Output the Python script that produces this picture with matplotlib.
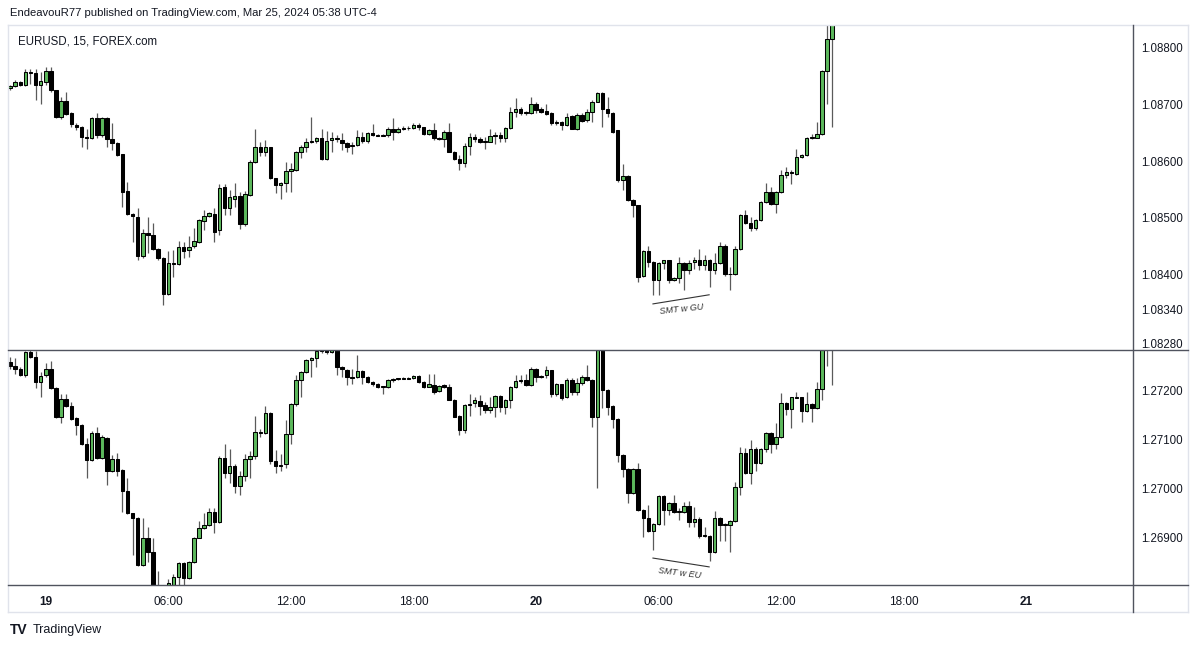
import numpy as np
import matplotlib
matplotlib.use("Agg")
import matplotlib.pyplot as plt
from matplotlib.lines import Line2D

plt.rcParams['font.family'] = ['Liberation Sans', 'DejaVu Sans']

# 15 minute bars, bar 0 = 19 Mar 00:00, first bar shown = -7
firstBar = -7

eu_open  = [1.08729, 1.08731, 1.08739, 1.08733, 1.08757, 1.08754, 1.08733,
            1.08739, 1.08758, 1.08724, 1.08677, 1.08706, 1.08685, 1.08664, 1.08660, 1.08642, 1.08641,
            1.08675, 1.08645, 1.08676, 1.08638, 1.08632, 1.08612, 1.08547, 1.08507, 1.08502, 1.08433,
            1.08474, 1.08470, 1.08445, 1.08429, 1.08366, 1.08421, 1.08419, 1.08449, 1.08443, 1.08450,
            1.08458, 1.08495, 1.08504, 1.08507, 1.08478, 1.08554, 1.08517, 1.08534, 1.08539, 1.08490,
            1.08541, 1.08599, 1.08625, 1.08616, 1.08624, 1.08570, 1.08558, 1.08561, 1.08583, 1.08585,
            1.08615, 1.08625, 1.08633, 1.08636, 1.08640, 1.08603, 1.08637, 1.08638, 1.08637, 1.08632,
            1.08626, 1.08628, 1.08643, 1.08636, 1.08649, 1.08646, 1.08645, 1.08645, 1.08657, 1.08651,
            1.08657, 1.08658, 1.08658, 1.08664, 1.08659, 1.08648, 1.08655, 1.08641, 1.08638, 1.08651,
            1.08616, 1.08603, 1.08597, 1.08626, 1.08643, 1.08638, 1.08634, 1.08634, 1.08644, 1.08645,
            1.08641, 1.08658, 1.08686, 1.08691, 1.08685, 1.08684, 1.08700, 1.08691, 1.08688, 1.08684,
            1.08667, 1.08669, 1.08663, 1.08679, 1.08657, 1.08681, 1.08672, 1.08686, 1.08704, 1.08720,
            1.08692, 1.08684, 1.08654, 1.08567, 1.08573, 1.08532, 1.08522, 1.08398, 1.08442, 1.08423,
            1.08391, 1.08421, 1.08426, 1.08391, 1.08395, 1.08421, 1.08408, 1.08423, 1.08427, 1.08417,
            1.08427, 1.08409, 1.08421, 1.08450, 1.08401, 1.08401, 1.08446, 1.08505, 1.08491, 1.08483,
            1.08497, 1.08528, 1.08545, 1.08525, 1.08546, 1.08575, 1.08580, 1.08578, 1.08607, 1.08611,
            1.08641, 1.08641, 1.08648, 1.08758, 1.08815]
eu_high  = [1.08733, 1.08742, 1.08740, 1.08762, 1.08762, 1.08762, 1.08756,
            1.08765, 1.08766, 1.08725, 1.08712, 1.08721, 1.08686, 1.08666, 1.08661, 1.08657, 1.08677,
            1.08685, 1.08678, 1.08678, 1.08666, 1.08633, 1.08613, 1.08563, 1.08508, 1.08517, 1.08480,
            1.08502, 1.08491, 1.08447, 1.08431, 1.08442, 1.08444, 1.08460, 1.08458, 1.08468, 1.08482,
            1.08498, 1.08514, 1.08510, 1.08517, 1.08560, 1.08560, 1.08549, 1.08562, 1.08545, 1.08548,
            1.08601, 1.08656, 1.08634, 1.08637, 1.08625, 1.08571, 1.08563, 1.08599, 1.08596, 1.08618,
            1.08628, 1.08640, 1.08678, 1.08643, 1.08657, 1.08653, 1.08651, 1.08646, 1.08650, 1.08634,
            1.08634, 1.08654, 1.08651, 1.08651, 1.08665, 1.08647, 1.08647, 1.08660, 1.08675, 1.08660,
            1.08661, 1.08661, 1.08666, 1.08666, 1.08660, 1.08657, 1.08666, 1.08642, 1.08655, 1.08666,
            1.08617, 1.08610, 1.08632, 1.08650, 1.08648, 1.08643, 1.08643, 1.08657, 1.08651, 1.08651,
            1.08660, 1.08695, 1.08710, 1.08695, 1.08688, 1.08713, 1.08704, 1.08695, 1.08701, 1.08686,
            1.08672, 1.08670, 1.08684, 1.08680, 1.08684, 1.08684, 1.08691, 1.08708, 1.08721, 1.08721,
            1.08712, 1.08686, 1.08655, 1.08595, 1.08575, 1.08533, 1.08523, 1.08444, 1.08451, 1.08424,
            1.08422, 1.08427, 1.08427, 1.08397, 1.08432, 1.08423, 1.08426, 1.08432, 1.08446, 1.08435,
            1.08428, 1.08438, 1.08458, 1.08454, 1.08414, 1.08450, 1.08507, 1.08514, 1.08502, 1.08499,
            1.08530, 1.08562, 1.08555, 1.08548, 1.08584, 1.08590, 1.08584, 1.08622, 1.08613, 1.08643,
            1.08648, 1.08669, 1.08760, 1.08847, 1.08870]
eu_low   = [1.08724, 1.08730, 1.08732, 1.08731, 1.08736, 1.08707, 1.08701,
            1.08733, 1.08722, 1.08675, 1.08673, 1.08681, 1.08660, 1.08654, 1.08625, 1.08622, 1.08638,
            1.08640, 1.08643, 1.08625, 1.08619, 1.08608, 1.08520, 1.08505, 1.08458, 1.08426, 1.08430,
            1.08438, 1.08443, 1.08427, 1.08347, 1.08364, 1.08397, 1.08417, 1.08429, 1.08432, 1.08448,
            1.08456, 1.08479, 1.08502, 1.08458, 1.08470, 1.08505, 1.08505, 1.08520, 1.08480, 1.08485,
            1.08538, 1.08596, 1.08608, 1.08608, 1.08568, 1.08543, 1.08533, 1.08546, 1.08546, 1.08583,
            1.08605, 1.08616, 1.08631, 1.08632, 1.08602, 1.08602, 1.08616, 1.08634, 1.08620, 1.08616,
            1.08613, 1.08626, 1.08631, 1.08631, 1.08644, 1.08644, 1.08644, 1.08643, 1.08637, 1.08650,
            1.08654, 1.08655, 1.08657, 1.08654, 1.08645, 1.08646, 1.08637, 1.08637, 1.08625, 1.08615,
            1.08602, 1.08584, 1.08589, 1.08610, 1.08634, 1.08631, 1.08622, 1.08633, 1.08630, 1.08634,
            1.08634, 1.08657, 1.08678, 1.08681, 1.08681, 1.08683, 1.08684, 1.08684, 1.08681, 1.08663,
            1.08663, 1.08654, 1.08662, 1.08656, 1.08654, 1.08669, 1.08669, 1.08669, 1.08703, 1.08660,
            1.08678, 1.08649, 1.08563, 1.08549, 1.08529, 1.08502, 1.08388, 1.08396, 1.08414, 1.08364,
            1.08364, 1.08411, 1.08385, 1.08389, 1.08385, 1.08373, 1.08402, 1.08411, 1.08408, 1.08408,
            1.08379, 1.08402, 1.08419, 1.08398, 1.08373, 1.08399, 1.08444, 1.08489, 1.08477, 1.08478,
            1.08495, 1.08526, 1.08523, 1.08509, 1.08544, 1.08570, 1.08560, 1.08576, 1.08605, 1.08609,
            1.08639, 1.08640, 1.08646, 1.08701, 1.08660]
eu_close = [1.08731, 1.08739, 1.08733, 1.08756, 1.08754, 1.08733, 1.08740,
            1.08758, 1.08724, 1.08677, 1.08706, 1.08683, 1.08665, 1.08660, 1.08642, 1.08641, 1.08675,
            1.08645, 1.08676, 1.08638, 1.08631, 1.08610, 1.08546, 1.08507, 1.08503, 1.08433, 1.08474,
            1.08470, 1.08445, 1.08429, 1.08366, 1.08421, 1.08420, 1.08449, 1.08442, 1.08449, 1.08459,
            1.08496, 1.08503, 1.08508, 1.08476, 1.08553, 1.08517, 1.08536, 1.08539, 1.08490, 1.08542,
            1.08599, 1.08625, 1.08616, 1.08624, 1.08570, 1.08558, 1.08561, 1.08583, 1.08586, 1.08616,
            1.08625, 1.08633, 1.08636, 1.08640, 1.08603, 1.08636, 1.08640, 1.08640, 1.08631, 1.08625,
            1.08629, 1.08643, 1.08636, 1.08649, 1.08646, 1.08645, 1.08645, 1.08657, 1.08651, 1.08657,
            1.08658, 1.08658, 1.08664, 1.08660, 1.08647, 1.08655, 1.08640, 1.08638, 1.08651, 1.08616,
            1.08603, 1.08597, 1.08626, 1.08643, 1.08638, 1.08633, 1.08635, 1.08644, 1.08645, 1.08641,
            1.08658, 1.08686, 1.08691, 1.08685, 1.08685, 1.08700, 1.08689, 1.08686, 1.08682, 1.08666,
            1.08667, 1.08663, 1.08678, 1.08657, 1.08681, 1.08671, 1.08686, 1.08704, 1.08720, 1.08692,
            1.08684, 1.08651, 1.08566, 1.08573, 1.08531, 1.08522, 1.08397, 1.08442, 1.08423, 1.08391,
            1.08420, 1.08426, 1.08391, 1.08395, 1.08421, 1.08408, 1.08421, 1.08427, 1.08417, 1.08427,
            1.08409, 1.08421, 1.08450, 1.08401, 1.08402, 1.08446, 1.08505, 1.08491, 1.08483, 1.08497,
            1.08528, 1.08545, 1.08525, 1.08546, 1.08575, 1.08581, 1.08579, 1.08607, 1.08611, 1.08641,
            1.08641, 1.08648, 1.08758, 1.08815, 1.08865]

gu_open  = [1.27257, 1.27250, 1.27244, 1.27231, 1.27278, 1.27268, 1.27216,
            1.27231, 1.27243, 1.27204, 1.27146, 1.27182, 1.27168, 1.27144, 1.27129, 1.27089, 1.27057,
            1.27112, 1.27061, 1.27103, 1.27034, 1.27059, 1.27037, 1.26994, 1.26949, 1.26938, 1.26843,
            1.26898, 1.26870, 1.26795, 1.26772, 1.26762, 1.26802, 1.26819, 1.26847, 1.26817, 1.26849,
            1.26899, 1.26919, 1.26925, 1.26952, 1.26930, 1.27061, 1.27030, 1.27045, 1.27005, 1.27025,
            1.27060, 1.27065, 1.27115, 1.27112, 1.27153, 1.27055, 1.27045, 1.27050, 1.27110, 1.27171,
            1.27221, 1.27238, 1.27261, 1.27265, 1.27280, 1.27282, 1.27278, 1.27282, 1.27248, 1.27241,
            1.27227, 1.27227, 1.27239, 1.27227, 1.27217, 1.27212, 1.27207, 1.27207, 1.27220, 1.27223,
            1.27223, 1.27224, 1.27224, 1.27229, 1.27217, 1.27207, 1.27210, 1.27198, 1.27210, 1.27207,
            1.27180, 1.27148, 1.27119, 1.27170, 1.27173, 1.27178, 1.27170, 1.27159, 1.27166, 1.27189,
            1.27166, 1.27180, 1.27207, 1.27220, 1.27221, 1.27210, 1.27243, 1.27227, 1.27231, 1.27241,
            1.27193, 1.27212, 1.27187, 1.27221, 1.27197, 1.27214, 1.27227, 1.27221, 1.27146, 1.27295,
            1.27200, 1.27168, 1.27142, 1.27068, 1.27039, 1.26989, 1.27039, 1.26955, 1.26938, 1.26913,
            1.26926, 1.26983, 1.26955, 1.26969, 1.26952, 1.26952, 1.26964, 1.26930, 1.26937, 1.26903,
            1.26903, 1.26869, 1.26938, 1.26925, 1.26925, 1.26933, 1.27003, 1.27071, 1.27030, 1.27080,
            1.27051, 1.27080, 1.27112, 1.27091, 1.27105, 1.27173, 1.27161, 1.27185, 1.27185, 1.27157,
            1.27171, 1.27164, 1.27202, 1.27300, 1.27320]
gu_high  = [1.27268, 1.27266, 1.27248, 1.27280, 1.27282, 1.27280, 1.27238,
            1.27255, 1.27259, 1.27206, 1.27193, 1.27193, 1.27176, 1.27146, 1.27130, 1.27102, 1.27117,
            1.27125, 1.27108, 1.27105, 1.27068, 1.27071, 1.27039, 1.27020, 1.26950, 1.26940, 1.26938,
            1.26921, 1.26898, 1.26830, 1.26795, 1.26815, 1.26824, 1.26849, 1.26849, 1.26851, 1.26901,
            1.26932, 1.26949, 1.26959, 1.26959, 1.27065, 1.27091, 1.27080, 1.27050, 1.27035, 1.27070,
            1.27075, 1.27148, 1.27120, 1.27168, 1.27155, 1.27078, 1.27070, 1.27139, 1.27173, 1.27231,
            1.27240, 1.27263, 1.27268, 1.27290, 1.27290, 1.27290, 1.27290, 1.27285, 1.27250, 1.27243,
            1.27244, 1.27272, 1.27241, 1.27229, 1.27219, 1.27214, 1.27209, 1.27223, 1.27225, 1.27225,
            1.27226, 1.27226, 1.27231, 1.27231, 1.27219, 1.27232, 1.27232, 1.27211, 1.27212, 1.27212,
            1.27181, 1.27149, 1.27172, 1.27193, 1.27187, 1.27190, 1.27176, 1.27187, 1.27191, 1.27190,
            1.27182, 1.27209, 1.27231, 1.27231, 1.27232, 1.27248, 1.27246, 1.27231, 1.27250, 1.27242,
            1.27214, 1.27213, 1.27224, 1.27224, 1.27224, 1.27231, 1.27251, 1.27222, 1.27310, 1.27300,
            1.27202, 1.27170, 1.27144, 1.27070, 1.27041, 1.27041, 1.27051, 1.26957, 1.26966, 1.26928,
            1.26985, 1.26985, 1.26971, 1.26986, 1.26959, 1.26972, 1.26974, 1.26962, 1.26940, 1.26921,
            1.26905, 1.26953, 1.26940, 1.26928, 1.26935, 1.27012, 1.27083, 1.27081, 1.27098, 1.27083,
            1.27082, 1.27114, 1.27115, 1.27132, 1.27195, 1.27175, 1.27187, 1.27197, 1.27187, 1.27197,
            1.27173, 1.27217, 1.27310, 1.27340, 1.27360]
gu_low   = [1.27244, 1.27234, 1.27229, 1.27227, 1.27266, 1.27204, 1.27185,
            1.27227, 1.27202, 1.27144, 1.27132, 1.27166, 1.27140, 1.27108, 1.27087, 1.27021, 1.27055,
            1.27059, 1.27059, 1.27006, 1.27032, 1.27025, 1.26952, 1.26947, 1.26864, 1.26841, 1.26841,
            1.26850, 1.26785, 1.26750, 1.26740, 1.26755, 1.26790, 1.26800, 1.26802, 1.26815, 1.26847,
            1.26898, 1.26917, 1.26923, 1.26908, 1.26928, 1.27020, 1.27010, 1.26990, 1.26985, 1.27015,
            1.27020, 1.27060, 1.27105, 1.27110, 1.27050, 1.27030, 1.27035, 1.27040, 1.27091, 1.27168,
            1.27187, 1.27236, 1.27227, 1.27248, 1.27275, 1.27274, 1.27276, 1.27231, 1.27227, 1.27210,
            1.27212, 1.27225, 1.27212, 1.27214, 1.27209, 1.27205, 1.27193, 1.27205, 1.27217, 1.27221,
            1.27222, 1.27222, 1.27222, 1.27215, 1.27204, 1.27206, 1.27193, 1.27196, 1.27204, 1.27179,
            1.27145, 1.27108, 1.27112, 1.27148, 1.27166, 1.27149, 1.27153, 1.27153, 1.27146, 1.27156,
            1.27151, 1.27163, 1.27204, 1.27214, 1.27208, 1.27208, 1.27217, 1.27224, 1.27224, 1.27187,
            1.27189, 1.27180, 1.27183, 1.27191, 1.27190, 1.27210, 1.27219, 1.27125, 1.27000, 1.27163,
            1.27149, 1.27122, 1.27054, 1.27023, 1.26969, 1.26987, 1.26953, 1.26901, 1.26911, 1.26874,
            1.26924, 1.26925, 1.26944, 1.26950, 1.26935, 1.26950, 1.26921, 1.26921, 1.26898, 1.26901,
            1.26851, 1.26867, 1.26891, 1.26891, 1.26870, 1.26931, 1.26986, 1.27028, 1.27008, 1.27034,
            1.27049, 1.27074, 1.27071, 1.27080, 1.27103, 1.27149, 1.27122, 1.27183, 1.27134, 1.27156,
            1.27134, 1.27162, 1.27180, 1.27250, 1.27210]
gu_close = [1.27250, 1.27244, 1.27231, 1.27278, 1.27268, 1.27216, 1.27229,
            1.27243, 1.27204, 1.27146, 1.27182, 1.27168, 1.27142, 1.27129, 1.27089, 1.27057, 1.27112,
            1.27061, 1.27105, 1.27034, 1.27059, 1.27035, 1.26993, 1.26949, 1.26938, 1.26843, 1.26898,
            1.26870, 1.26795, 1.26772, 1.26762, 1.26806, 1.26819, 1.26847, 1.26817, 1.26849, 1.26899,
            1.26919, 1.26925, 1.26952, 1.26930, 1.27061, 1.27030, 1.27045, 1.27005, 1.27025, 1.27060,
            1.27065, 1.27114, 1.27112, 1.27153, 1.27055, 1.27045, 1.27046, 1.27110, 1.27171, 1.27221,
            1.27238, 1.27261, 1.27265, 1.27280, 1.27282, 1.27278, 1.27282, 1.27248, 1.27243, 1.27227,
            1.27224, 1.27239, 1.27227, 1.27217, 1.27212, 1.27207, 1.27207, 1.27221, 1.27223, 1.27223,
            1.27224, 1.27224, 1.27229, 1.27217, 1.27207, 1.27212, 1.27197, 1.27209, 1.27207, 1.27180,
            1.27146, 1.27119, 1.27170, 1.27171, 1.27180, 1.27168, 1.27159, 1.27166, 1.27189, 1.27166,
            1.27180, 1.27207, 1.27219, 1.27221, 1.27210, 1.27243, 1.27227, 1.27228, 1.27241, 1.27193,
            1.27212, 1.27183, 1.27221, 1.27197, 1.27214, 1.27227, 1.27221, 1.27146, 1.27295, 1.27200,
            1.27166, 1.27142, 1.27068, 1.27039, 1.26989, 1.27039, 1.26955, 1.26938, 1.26913, 1.26926,
            1.26983, 1.26955, 1.26969, 1.26952, 1.26952, 1.26964, 1.26930, 1.26937, 1.26903, 1.26903,
            1.26869, 1.26938, 1.26925, 1.26925, 1.26933, 1.27003, 1.27071, 1.27030, 1.27080, 1.27051,
            1.27080, 1.27112, 1.27091, 1.27105, 1.27173, 1.27161, 1.27185, 1.27186, 1.27157, 1.27171,
            1.27164, 1.27202, 1.27300, 1.27320, 1.27340]

eu_ticks  = [1.0880, 1.0870, 1.0860, 1.0850, 1.0840, 1.0834, 1.0828]
gu_ticks  = [1.2720, 1.2710, 1.2700, 1.2690]
timeTicks = [0, 24, 48, 72, 96, 120, 144, 168, 192]
timeLbls  = ["19", "06:00", "12:00", "18:00", "20", "06:00", "12:00", "18:00", "21"]
dayLbls   = ["19", "20", "21"]

# SMT annotations: (bar, price) of line ends and label
smtEU = dict(x=[118.9, 129.9], y=[1.08349, 1.08365], tx=124.6, ty=1.08339, text="SMT w GU", rot=6)
smtGU = dict(x=[118.9, 129.9], y=[1.26857, 1.26839], tx=124.2, ty=1.26826, text="SMT w EU", rot=-7)

upCol   = '#5cb85c'
wickCol = '#5a5a5a'
lineCol = '#50535e'
boxCol  = '#e0e3eb'
txtCol  = '#131722'

W, H = 1200, 646

def fx(px):
    return px/W

def fy(py):
    return 1 - py/H

def drawCandles(ax, o, h, l, c, minBody):
    o = np.array(o); h = np.array(h); l = np.array(l); c = np.array(c)
    x = np.arange(len(o)) + firstBar
    up = c >= o
    ax.vlines(x, l, h, color=wickCol, lw=0.9, zorder=1)
    mid = (o + c)/2
    hgt = np.maximum(np.abs(c - o), minBody)
    bot = mid - hgt/2
    ax.bar(x[up], hgt[up], bottom=bot[up], width=0.68, color=upCol,
           edgecolor='black', linewidth=0.75, zorder=2)
    ax.bar(x[~up], hgt[~up], bottom=bot[~up], width=0.68, color='black',
           edgecolor='black', linewidth=0.75, zorder=2)

fig = plt.figure(figsize=(12, 6.46), dpi=100)
fig.patch.set_facecolor('white')

xL, xR = 8, 1133
yT, yS, yB = 25, 350, 585
axTop = fig.add_axes([fx(xL), fy(yS), fx(xR) - fx(xL), fy(yT) - fy(yS)])
axBot = fig.add_axes([fx(xL), fy(yB), fx(xR) - fx(xL), fy(yS) - fy(yB)])

drawCandles(axTop, eu_open, eu_high, eu_low, eu_close, 0.000016)
drawCandles(axBot, gu_open, gu_high, gu_low, gu_close, 0.000019)

xlim = (-7.4, 212.9)
axTop.set_xlim(*xlim)
axBot.set_xlim(*xlim)
axTop.set_ylim(1.08268, 1.08839)
axBot.set_ylim(1.26802, 1.27282)

for ax, ticks in ((axTop, eu_ticks), (axBot, gu_ticks)):
    ax.yaxis.tick_right()
    ax.set_yticks(ticks)
    ax.set_yticklabels(["%.5f" % t for t in ticks], fontsize=8.3, color=txtCol)
    ax.tick_params(axis='y', length=0, pad=6)
    for s in ax.spines.values():
        s.set_visible(False)
    ax.set_facecolor('white')

axTop.set_xticks([])
axBot.set_xticks(timeTicks)
axBot.set_xticklabels(timeLbls, fontsize=8.5, color=txtCol)
axBot.tick_params(axis='x', length=0, pad=8)
for lbl in axBot.get_xticklabels():
    if lbl.get_text() in dayLbls:
        lbl.set_fontweight('bold')

# SMT drawings
for ax, smt in ((axTop, smtEU), (axBot, smtGU)):
    ax.plot(smt['x'], smt['y'], color='#333333', lw=0.8, zorder=3)
    ax.text(smt['tx'], smt['ty'], smt['text'], fontsize=6.5, style='italic', color='#333333',
            rotation=smt['rot'], ha='center', va='center', zorder=3)

# frame lines
def figLine(x0, y0, x1, y1, col, lw):
    fig.add_artist(Line2D([fx(x0), fx(x1)], [fy(y0), fy(y1)], transform=fig.transFigure,
                          color=col, lw=lw))

figLine(xL, yT, 1188, yT, boxCol, 1.0)
figLine(xL, 612, 1188, 612, boxCol, 1.0)
figLine(xL, yT, xL, 612, boxCol, 1.0)
figLine(1188, yT, 1188, 612, boxCol, 1.0)
figLine(xL, yS, 1188, yS, lineCol, 1.0)
figLine(xL, yB, 1188, yB, lineCol, 1.0)
figLine(xR, yT, xR, 612, lineCol, 1.0)

fig.text(fx(10), fy(13), "EndeavouR77 published on TradingView.com, Mar 25, 2024 05:38 UTC-4",
         fontsize=8.1, color=txtCol, va='center', ha='left')
fig.text(fx(18), fy(42), "EURUSD, 15, FOREX.com", fontsize=8.3, color=txtCol, va='center', ha='left')
fig.text(fx(10), fy(630), "TV", fontsize=10, fontweight='bold', color=txtCol, va='center', ha='left')
fig.text(fx(33), fy(630), "TradingView", fontsize=9, color=txtCol, va='center', ha='left')

fig.savefig("out.png", dpi=100)
